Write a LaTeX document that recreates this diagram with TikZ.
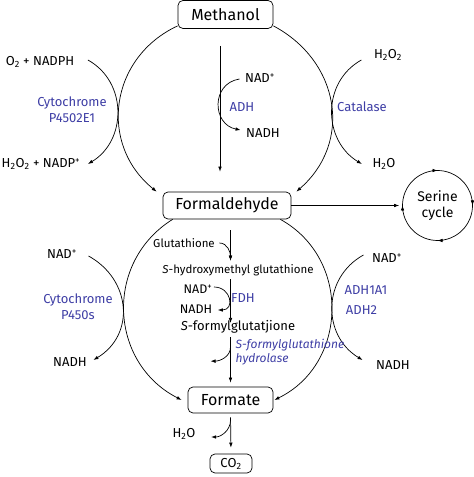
\documentclass[tikz,border=0pt]{standalone}
\usepackage{fontspec}
\setmainfont{Fira Sans}
\usetikzlibrary{arrows.meta,calc}
\definecolor{enzblue}{RGB}{62,62,165}

\begin{document}
\begin{tikzpicture}[x=1pt,y=1pt,line width=0.7pt,
		arr/.style={-{Latex[length=5pt,width=3.6pt]}},
		box/.style={draw,rounded corners=5pt,inner sep=0pt},
		enz/.style={text=enzblue,font=\fontsize{13}{16}\selectfont,align=center},
		chem/.style={font=\fontsize{13}{15}\selectfont}]
		%%%%% START %%%%%
		\useasboundingbox (0,0) rectangle (474,477);
		
		\node[box,minimum width=95,minimum height=28,font=\fontsize{16}{19}\selectfont] (meth) at (225.5,462.5) {Methanol};
		\node[box,minimum width=128,minimum height=27,font=\fontsize{16}{19}\selectfont] (form) at (227,271.5) {Formaldehyde};
		\node[box,minimum width=85,minimum height=26,font=\fontsize{16}{19}\selectfont] (fmt) at (230.5,77) {Formate};
		\node[box,minimum width=42,minimum height=19,font=\fontsize{13}{15}\selectfont] (co2) at (231,13.5) {CO\textsubscript{2}};
		\node[draw,circle,minimum size=70,inner sep=0pt,align=center,font=\fontsize{14}{16}\selectfont] (ser) at (437.5,271.5) {Serine\\cycle};
		
		% big arcs
		\draw[arr] ([yshift=3pt]meth.south west) to[out=205,in=141,looseness=1.15] ([xshift=-6pt]form.north west);
		\draw[arr] ([yshift=3pt]meth.south east) to[out=-28,in=41,looseness=1.15] ([xshift=5pt]form.north east);
		\draw[arr] ([xshift=10pt]form.south west) to[out=212,in=153,looseness=1.15] ([xshift=-6pt]fmt.west);
		\draw[arr] ([xshift=-11pt]form.south east) to[out=-29,in=26,looseness=1.15] ([xshift=1pt]fmt.east);
		
		% methanol -> formaldehyde (ADH)
		\draw[arr,shorten <=17pt,shorten >=20pt] ([xshift=-5.5pt]meth.south) -- ([xshift=-5.5pt]meth.south |- form.north);
		\node[chem] (nad1) at (260,399) {NAD\textsuperscript{+}};
		\node[chem] (nadh1) at (263,344) {NADH};
		\node[enz] (adh) at (242,370) {ADH};
		\draw[arr] ([shift={(-2,-1)}]nad1.west) to[out=189,in=169,looseness=1.45] ([shift={(-2,3)}]nadh1.west);
		
		% cytochrome P4502E1
		\node[chem] (o2) at (40,415) {O\textsubscript{2} + NADPH};
		\node[chem] (h2o2l) at (41,313) {H\textsubscript{2}O\textsubscript{2} + NADP\textsuperscript{+}};
		\node[enz] (cyp1) at (72,367) {Cytochrome\\P4502E1};
		\draw[arr] ([shift={(10,2)}]o2.east) to[out=-29,in=31,looseness=1.12] ([xshift=4pt]h2o2l.east);
		
		% catalase
		\node[chem] (h2o2r) at (388,422) {H\textsubscript{2}O\textsubscript{2}};
		\node[chem] (h2or) at (384,313) {H\textsubscript{2}O};
		\node[enz] (cat) at (362,370) {Catalase};
		\draw[arr] ([shift={(-9,-5)}]h2o2r.west) to[out=209,in=149,looseness=1.12] ([xshift=-7pt]h2or.west);
		
		% serine cycle
		\draw[arr,shorten >=3pt] (form.east) -- (ser.west);
		\foreach \a in {0,90,180,270}
			\draw[arr] ([shift={(\a+9:35)}]ser.center) arc[start angle=\a+9,end angle=\a,radius=35];
		
		% cytochrome P450s
		\node[chem] (nadl) at (62,223) {NAD\textsuperscript{+}};
		\node[chem] (nadhl) at (70,115) {NADH};
		\node[enz] (cyp2) at (78,170.5) {Cytochrome\\P450s};
		\draw[arr] ([shift={(8,-2)}]nadl.east) to[out=-29,in=31,looseness=1.2] ([shift={(3,2)}]nadhl.east);
		
		% ADH1A1 / ADH2
		\node[chem] (nadr) at (387,219) {NAD\textsuperscript{+}};
		\node[chem] (nadhr) at (393,112) {NADH};
		\node[enz] (adh1) at (366,187) {ADH1A1};
		\node[enz] (adh2) at (361.5,167) {ADH2};
		\draw[arr] ([shift={(-5,3)}]nadr.west) to[out=209,in=149,looseness=1.15] ([shift={(-10,5)}]nadhr.west);
		
		% glutathione route
		\node[font=\fontsize{11.5}{13}\selectfont] (glu) at (184,234) {Glutathione};
		\node[font=\fontsize{11.5}{13}\selectfont] (shm) at (238,207) {\textit{S}-hydroxymethyl glutathione};
		\node[font=\fontsize{13}{16}\selectfont] (sfg) at (238,150) {\textit{S}-formylglutatjione};
		\draw[arr,shorten <=11pt] (form.south -| fmt.north) -- (shm.north -| fmt.north);
		\draw[arr] ([xshift=1pt]glu.east) to[out=0,in=90] (shm.north -| fmt.north);
		\draw[arr,shorten >=4pt] (shm.south -| fmt.north) -- (sfg.center -| fmt.north);
		
		\node[font=\fontsize{12.5}{14}\selectfont] (nad2) at (198,188) {NAD\textsuperscript{+}};
		\node[font=\fontsize{12.5}{14}\selectfont] (nadh2) at (196,168) {NADH};
		\node[enz] (fdh) at (243,179) {FDH};
		\draw[arr] ([shift={(-2,2)}]nad2.east) to[out=0,in=0,looseness=1.9] ([shift={(2,-1)}]nadh2.east);
		
		\draw[arr,shorten >=4pt] (sfg.south -| fmt.north) -- (fmt.north);
		\node[enz,font=\fontsize{12}{14}\selectfont\itshape,align=left,anchor=west] (hyd) at (232,125) {S-formylglutathione\\hydrolase};
		\draw[arr] ([yshift=-10pt]sfg.south -| fmt.north) to[out=-90,in=0] ++(-20,-14);
		
		% formate -> CO2
		\node[chem] (h2ob) at (184,43) {H\textsubscript{2}O};
		\draw[arr,shorten <=4pt,shorten >=6pt] (fmt.south) -- (co2.north);
		\draw[arr] ([yshift=-7pt]fmt.south) to[out=-90,in=0] ([shift={(12,-3)}]h2ob.east);
		
		%%%%% END %%%%%
	\end{tikzpicture}
\end{document}
